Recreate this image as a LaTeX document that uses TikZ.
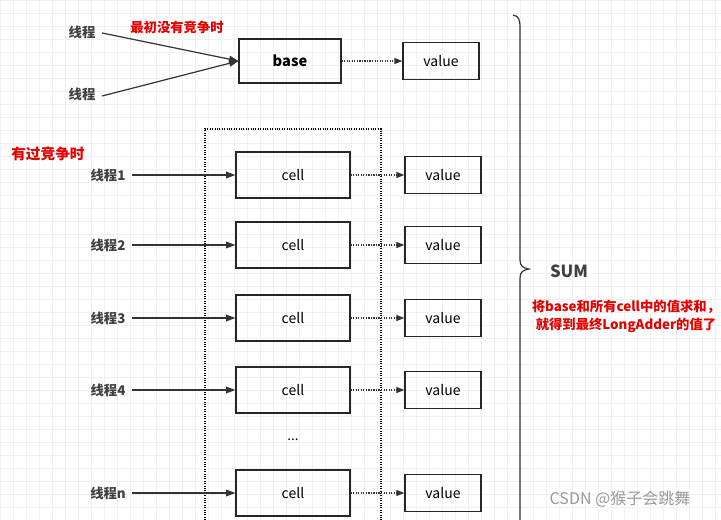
\documentclass[tikz,border=0pt]{standalone}
\usepackage{fontspec}
\setmainfont{Noto Sans CJK SC}
\usetikzlibrary{arrows.meta}
\begin{document}
\begin{tikzpicture}[x=0.75pt,y=-0.75pt,
  box/.style={draw=black!85,line width=0.9pt,minimum width=114*0.75pt,minimum height=46*0.75pt,inner sep=0pt,font=\fontsize{10.5}{12}\selectfont},
  val/.style={draw=black!85,line width=0.9pt,minimum width=76*0.75pt,minimum height=37*0.75pt,inner sep=0pt,font=\fontsize{10.5}{12}\selectfont},
  lbl/.style={font=\fontsize{10}{12}\selectfont\bfseries,text=black!75},
  red/.style={font=\fontsize{10}{12}\selectfont\bfseries,text=red!90!black},
  arr/.style={-{Triangle[length=7pt,width=5pt]},line width=0.9pt,draw=black!80},
  darr/.style={-{Triangle[length=6pt,width=4.5pt]},densely dotted,line width=0.9pt,draw=black!80}]
\useasboundingbox (0,0) rectangle (721,520);
\fill[white] (0,0) rectangle (721,520);
\draw[black!6,line width=0.4pt,step=13*0.75pt] (0,0) grid (721,520);
% top
\node[lbl] (t1) at (82,32) {线程};
\node[lbl] (t2) at (82,94) {线程};
\node[red] (r1) at (177,27) {最初没有竞争时};
\node[box,minimum width=102*0.75pt,minimum height=44*0.75pt,font=\fontsize{11}{12}\selectfont\bfseries] (base) at (290,61) {base};
\node[val] (bv) at (441,61) {value};
\draw[arr] (t1.east)++(2,1) coordinate (a1) -- (base.west);
\draw[arr] (t2.east)++(2,2) coordinate (a2) -- (base.west);
\draw[darr] (base) -- (bv);
% container
\draw[densely dotted,line width=0.8pt] (205,525) -- (205,129) -- (381,129) -- (381,525);
\node[red,font=\fontsize{11}{12}\selectfont\bfseries] (r2) at (48,154) {有过竞争时};
\foreach \n/\y/\t in {1/175/1,2/245/2,3/318/3,4/390/4,5/493/n}{
  \node[lbl] (l\n) at (108,\y) {线程\t};
  \node[box] (c\n) at (293,\y) {cell};
  \node[val] (v\n) at (443,\y) {value};
  \draw[arr] (l\n.east)++(2,0) -- (c\n.west);
  \draw[darr] (c\n) -- (v\n);
}
\node (dots) at (293,440) {...};
% brace
\draw[line width=0.9pt,black!80] (513,15) .. controls (519,16) and (520,20) .. (520,28)
  -- (520,260) .. controls (520,266) and (523,268) .. (529,269)
  .. controls (523,270) and (520,272) .. (520,278) -- (520,525);
\node[font=\fontsize{12.5}{14}\selectfont\bfseries,text=black!75] (sum) at (569,271) {SUM};
\node[red,align=center,font=\fontsize{10}{13.5}\selectfont\bfseries] (r3) at (626,316) {将base和所有cell中的值求和，\\就得到最终LongAdder的值了};
\node[text=black!40,font=\fontsize{12}{14}\selectfont] (wm) at (620,499) {CSDN @猴子会跳舞};
\end{tikzpicture}
\end{document}
